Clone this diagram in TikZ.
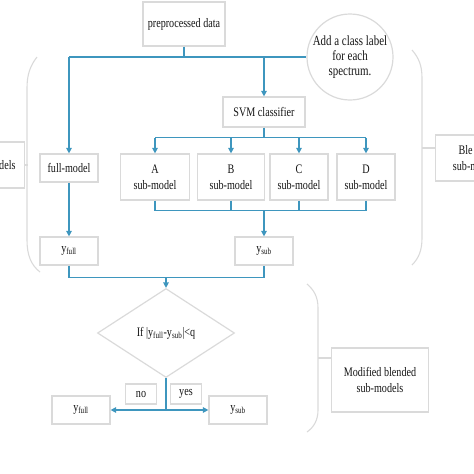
\documentclass[tikz,border=0pt]{standalone}
\usepackage{fontspec}
\setmainfont{Liberation Serif}[FakeStretch=0.78]
\usetikzlibrary{arrows.meta, shapes.geometric}
\definecolor{flow}{RGB}{62,150,190}
\definecolor{frame}{RGB}{218,218,218}

\begin{document}
\begin{tikzpicture}[x=1pt, y=-1pt,
  every node/.style={font=\fontsize{13}{16}\selectfont, text=black!92, align=center, inner sep=0pt},
  box/.style={draw=frame, line width=1.2pt, shape=rectangle},
  line/.style={draw=flow, line width=1.3pt},
  arr/.style={line, -{Triangle[length=5.5pt, width=5.5pt]}},
  brace/.style={draw=frame, line width=1.1pt}]
\useasboundingbox (0,0) rectangle (474,474);
% Define nodes
\node[box, minimum width=82pt, minimum height=44pt] (pre) at (184,24) {preprocessed data};
\node[box, shape=circle, minimum size=86pt, font=\fontsize{14}{15}\selectfont] (cls) at (350,57) {Add a class label\\for each\\spectrum.};
\node[box, minimum width=82pt, minimum height=30pt] (svm) at (264,112) {SVM classifier};
\node[box, minimum width=58pt, minimum height=28pt] (full) at (69,168) {full-model};
\node[box, minimum width=69pt, minimum height=46pt] (suba) at (155,177) {A\\sub-model};
\node[box, minimum width=67pt, minimum height=46pt] (subb) at (231,177) {B\\sub-model};
\node[box, minimum width=58pt, minimum height=46pt] (subc) at (299,177) {C\\sub-model};
\node[box, minimum width=58pt, minimum height=46pt] (subd) at (366,177) {D\\sub-model};
\node[box, minimum width=58pt, minimum height=28pt] (yfull) at (69,251) {y\textsubscript{full}};
\node[box, minimum width=58pt, minimum height=28pt] (ysub) at (264,251) {y\textsubscript{sub}};
\node[box, shape=diamond, minimum width=137pt, minimum height=89pt] (cond) at (166,333) {If |y\textsubscript{full}-y\textsubscript{sub}|<q};
\node[box, minimum width=58pt, minimum height=28pt] (yfulltwo) at (81,410) {y\textsubscript{full}};
\node[box, minimum width=58pt, minimum height=28pt] (ysubtwo) at (238,410) {y\textsubscript{sub}};
\node[box, minimum width=31pt, minimum height=20pt] (no) at (141,394) {no};
\node[box, minimum width=31pt, minimum height=20pt] (yes) at (186,394) {yes};
\node[box, minimum width=97pt, minimum height=64pt] (mod) at (380,380) {Modified blended\\sub-models};
\node[box, anchor=east, minimum width=34pt, minimum height=46pt] (fullset) at (25,165) {dels};
\node[box, anchor=west, minimum width=60pt, minimum height=46pt] (blend) at (435,158) {Ble\\sub-m};

% Flow
\path (svm.south) +(0,10) coordinate (split)
      (suba.south) +(0,10) coordinate (merge)
      (yfull.south) +(0,12) coordinate (join);
\coordinate (fork) at (cond |- yfulltwo);

\draw[line] (pre) -- (pre |- cls);
\draw[line] (full |- cls) -- (cls);
\draw[arr] (full |- cls) -- (full);
\draw[arr] (svm |- cls) -- (svm);

\draw[line] (svm) -- (split);
\draw[line] (suba |- split) -- (subd |- split);
\foreach \s in {suba,subb,subc,subd} {
  \draw[arr] (\s |- split) -- (\s);
  \draw[line] (\s) -- (\s |- merge);
}
\draw[line] (suba |- merge) -- (subd |- merge);
\draw[arr] (ysub |- merge) -- (ysub);

\draw[arr] (full) -- (yfull);
\draw[line] (yfull) -- (yfull |- join) -- (ysub |- join) -- (ysub);
\draw[arr] (cond |- join) -- (cond);

\draw[line] (cond) -- (fork);
\draw[arr] (fork) -- (yfulltwo);
\draw[arr] (fork) -- (ysubtwo);

% Braces
\draw[brace] (37,57) .. controls (30,66) and (27,75) .. (27,88) -- (27,240) .. controls (27,255) and (31,265) .. (40,272);
\draw[brace] (fullset.east) -- +(3,0);
\draw[brace] (412,50) .. controls (419,58) and (422,66) .. (422,78) -- (422,238) .. controls (422,250) and (419,258) .. (412,265);
\draw[brace] (422,148) -- (blend.west |- 422,148);
\draw[brace] (307,284) .. controls (314,290) and (318,297) .. (318,308) -- (318,410) .. controls (318,420) and (314,427) .. (307,432);
\draw[brace] (318,358) -- (mod.west |- 318,358);
\end{tikzpicture}
\end{document}
